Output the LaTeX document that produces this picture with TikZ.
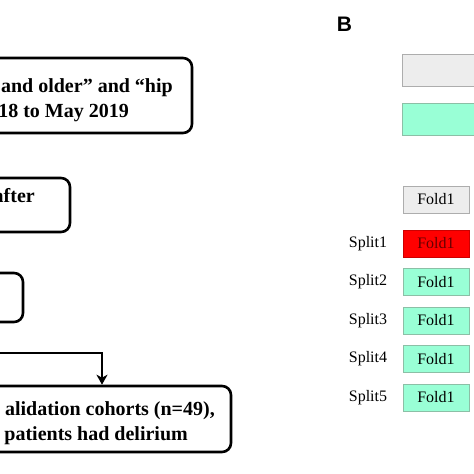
\documentclass[tikz,border=0pt]{standalone}
\usepackage{fontspec}
\setmainfont{Liberation Serif}
\newfontfamily\panelfont{Liberation Sans}
\usepackage{xcolor}
\definecolor{foldgray}{rgb}{0.93, 0.93, 0.93}
\definecolor{foldedge}{rgb}{0.68, 0.68, 0.68}
\definecolor{aqua}{rgb}{0.60, 1.0, 0.84}
\definecolor{aquaedge}{rgb}{0.55, 0.75, 0.65}
\definecolor{testred}{rgb}{1.0, 0.0, 0.0}
\definecolor{testedge}{rgb}{0.80, 0.0, 0.0}
\definecolor{darkred}{rgb}{0.40, 0.0, 0.0}
\usepackage{tikz}
\usetikzlibrary{calc}
\usetikzlibrary{arrows.meta, positioning}

\begin{document}
\begin{tikzpicture}[>={Stealth[length=10pt, width=11pt, inset=3pt]}, x=1pt, y=-1pt]
	\useasboundingbox (0,0) rectangle (474,474);
	\clip (0,0) rectangle (474,474);
	
	% ------------------------------------------------------------------
	% STYLE DEFINITIONS
	% ------------------------------------------------------------------
	\tikzset{
		flowbox/.style = {draw, line width=2.6pt, rounded corners=9pt, inner sep=0pt},
		flowtext/.style = {font=\fontsize{20}{24}\selectfont\bfseries, inner sep=0pt},
		link/.style = {line width=2pt},
		fold/.style = {draw, line width=0.8pt, minimum width=66pt, minimum height=27pt, inner sep=0pt, font=\fontsize{16}{18}\selectfont},
		foldtrain/.style = {fold, fill=aqua, draw=aquaedge},
		foldtest/.style = {fold, fill=testred, draw=testedge, text=darkred},
		foldnone/.style = {fold, fill=foldgray, draw=foldedge},
		splitlabel/.style = {font=\fontsize{16}{18}\selectfont, inner sep=0pt},
	}
	
	% ------------------------------------------------------------------
	% PANEL A: FLOW CHART
	% ------------------------------------------------------------------
	% 1.  search box
	\node[flowbox, minimum width=222pt, minimum height=75pt] (search) at (81,95.5) {};
	\node[flowtext, anchor=base east] (searchA) at (173,92) {and older” and “hip};
	\node[flowtext, anchor=base east] (searchB) at (129,117.5) {18 to May 2019};
	
	% 2.  exclusion box
	\node[flowbox, minimum width=100pt, minimum height=54pt] (exclude) at (20,205) {};
	\node[flowtext, anchor=base east] (excludeA) at (35,202) {after};
	
	% 3.  included box
	\node[flowbox, minimum width=53pt, minimum height=49pt] (include) at (-3.5,297.5) {};
	
	% 4.  cohort box
	\node[flowbox, minimum width=262pt, minimum height=66pt] (cohort) at (100,419) {};
	\node[flowtext, anchor=base east] (cohortA) at (215,415) {alidation cohorts (n=49),};
	\node[flowtext, anchor=base east] (cohortB) at (188,440) {patients had delirium};
	
	% connector into the cohort box
	\coordinate (split) at (-10,353);
	\coordinate (turn) at (102,353);
	\draw[link, ->] (split) -- (turn) -- (turn |- cohort.north);
	
	% ------------------------------------------------------------------
	% PANEL B: CROSS-VALIDATION
	% ------------------------------------------------------------------
	\node[font=\panelfont\bfseries\fontsize{21}{24}\selectfont, inner sep=0pt] (panelB) at (344.5,24.5) {B};
	
	% legend bars
	\node[foldnone, minimum width=80pt, minimum height=32pt, anchor=north west] (keyTest) at (402,54) {};
	\node[foldtrain, minimum width=80pt, minimum height=32pt, anchor=north west] (keyTrain) at (402,103) {};
	
	% header fold
	\node[foldnone] (head1) at (436,199.5) {Fold1};
	
	% splits
	\node[foldtest] (fold1) at (436,243.5) {Fold1};
	\node[splitlabel] (split1) at (368,243.5) {Split1};
	\foreach \k [count=\i from 2] in {282,320.5,359,397.5} {
		\node[foldtrain] (fold\i) at (436,\k) {Fold1};
		\node[splitlabel] (split\i) at (368,\k) {Split\i};
	}
	
\end{tikzpicture}
\end{document}
